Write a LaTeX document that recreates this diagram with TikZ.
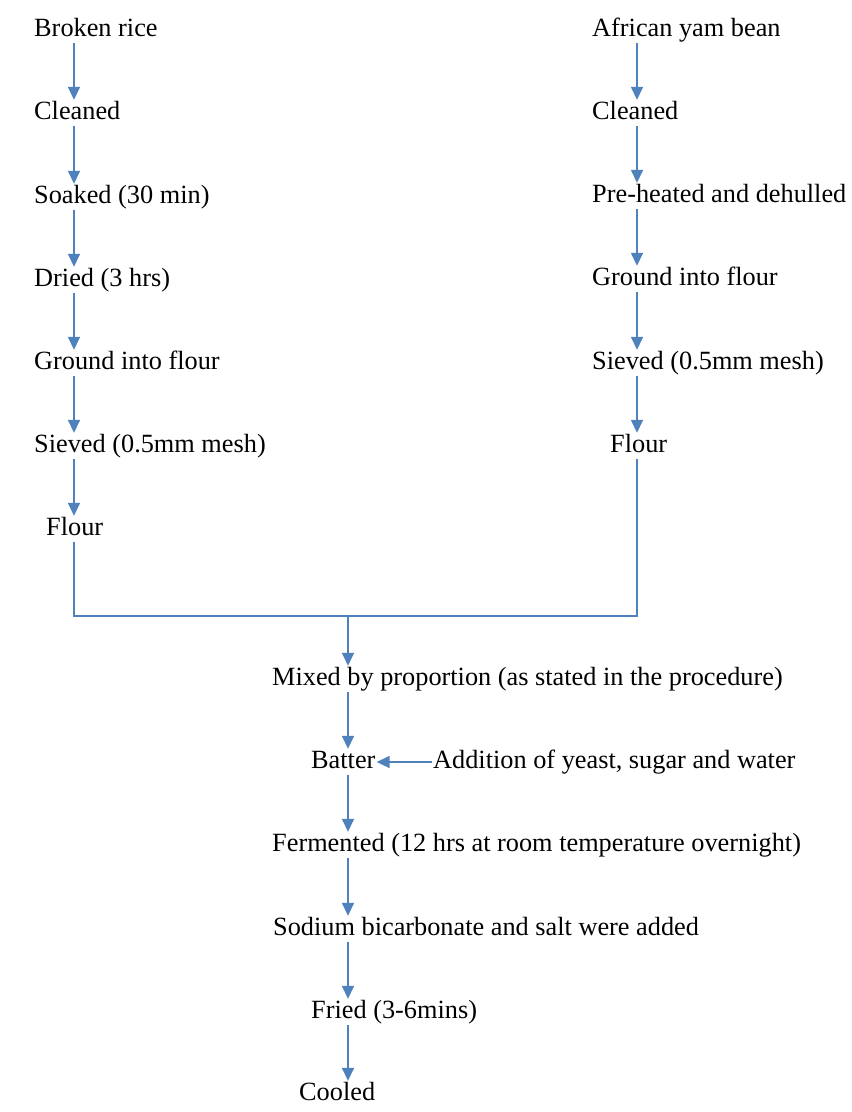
\documentclass[tikz,border=0pt]{standalone}
\usepackage{fontspec}
\setmainfont{Liberation Serif}
\usetikzlibrary{arrows.meta}
\definecolor{flowblue}{RGB}{79, 129, 189}

\begin{document}
\begin{tikzpicture}[x=1pt, y=-1pt, >={Triangle[length=13pt, width=12pt]},
  stage/.style={anchor=base west, inner sep=1pt, text height=18pt, text depth=6pt,
    font=\fontsize{26.3}{30}\selectfont},
  flow/.style={->, flowblue, line width=1.5pt},
  joint/.style={flowblue, line width=1.5pt}]

  \useasboundingbox (0,0) rectangle (852,1112);

  % Column lines
  \coordinate (colL) at (74,0);
  \coordinate (colR) at (637,0);
  \coordinate (colM) at (348,0);

  % Broken rice side
  \node[stage] (br) at (33,36) {Broken rice};
  \node[stage] (cl1) at (33,119) {Cleaned};
  \node[stage] (so) at (33,203) {Soaked (30 min)};
  \node[stage] (dr) at (33,286) {Dried (3 hrs)};
  \node[stage] (gr1) at (33,369) {Ground into flour};
  \node[stage] (sv1) at (33,452) {Sieved (0.5mm mesh)};
  \node[stage] (fl1) at (45,535) {Flour};

  % African yam bean side
  \node[stage] (ayb) at (591,36) {African yam bean};
  \node[stage] (cl2) at (591,119) {Cleaned};
  \node[stage] (ph) at (591,202) {Pre-heated and dehulled};
  \node[stage] (gr2) at (591,285) {Ground into flour};
  \node[stage] (sv2) at (591,369) {Sieved (0.5mm mesh)};
  \node[stage] (fl2) at (609,452) {Flour};

  % Merged steps
  \node[stage] (mix) at (271,685) {Mixed by proportion (as stated in the procedure)};
  \node[stage] (bat) at (310,768) {Batter};
  \node[stage] (add) at (432,768) {Addition of yeast, sugar and water};
  \node[stage] (fer) at (271,851) {Fermented (12 hrs at room temperature overnight)};
  \node[stage] (sod) at (272,935) {Sodium bicarbonate and salt were added};
  \node[stage] (fri) at (310,1018) {Fried (3-6mins)};
  \node[stage] (coo) at (298,1100) {Cooled};

  % Arrows down each column
  \foreach \a/\b in {br/cl1, cl1/so, so/dr, dr/gr1, gr1/sv1, sv1/fl1}
    \draw[flow] (\a.south -| colL) -- (\b.north -| colL);
  \foreach \a/\b in {ayb/cl2, cl2/ph, ph/gr2, gr2/sv2, sv2/fl2}
    \draw[flow] (\a.south -| colR) -- (\b.north -| colR);

  % Joining the two flours
  \coordinate (jn) at (348,616);
  \draw[joint] (fl1.south -| colL) -- (jn -| colL) -- (jn -| colR) -- (fl2.south -| colR);
  \draw[flow] (jn) -- (mix.north -| jn);

  % Main line
  \foreach \a/\b in {mix/bat, bat/fer, fer/sod, sod/fri, fri/coo}
    \draw[flow] (\a.south -| colM) -- (\b.north -| colM);
  \draw[flow] (add.west) -- (bat.east);

\end{tikzpicture}
\end{document}
